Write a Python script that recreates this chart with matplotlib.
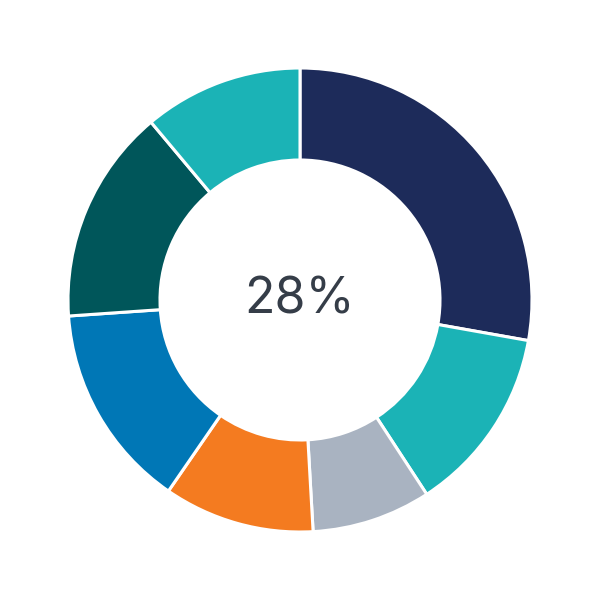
import matplotlib.pyplot as plt

# slice shares (percent), clockwise from 12 o'clock
shares = [27.8, 13.0, 8.3, 10.5, 14.3, 15.0, 11.1]
colors = ['#1d2b5a', '#1bb3b6', '#a9b3c1', '#f47b20', '#0077b6', '#00565a', '#1bb3b6']
center_label = '28%'

fig = plt.figure(figsize=(6, 6), dpi=100)
ax = fig.add_axes([0, 0, 1, 1])

ax.pie(shares, colors=colors, startangle=90, counterclock=False, radius=1,
       wedgeprops=dict(width=92 / 232, edgecolor='white', linewidth=2.2))

ax.text(0, 0, center_label, ha='center', va='center', fontsize=36,
        family='Inter', fontweight='normal', color='#353d48')

lim = 300 / 232
ax.set_xlim(-lim, lim)
ax.set_ylim(-lim, lim)
ax.set_aspect('equal')
ax.axis('off')

plt.savefig('out.png', dpi=100, facecolor='white')
